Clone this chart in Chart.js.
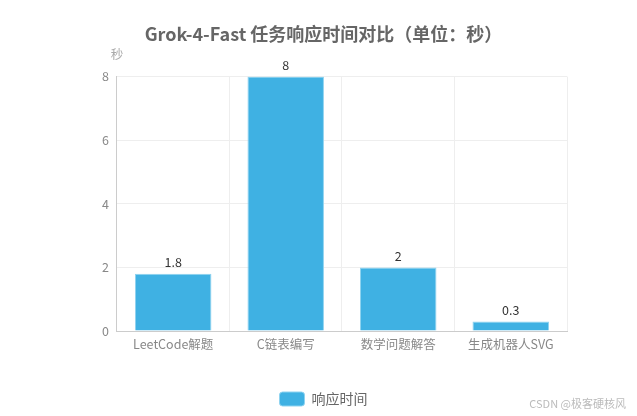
<!DOCTYPE html>
<html><head><meta charset="utf-8">
<script src="https://cdn.jsdelivr.net/npm/chart.js@4"></script>
<style>html,body{margin:0;padding:0;background:#fff;}#wrap{width:637px;height:416px;position:relative;}</style>
</head><body><div id="wrap"><canvas id="c"></canvas></div>
<script>
const categories = ['LeetCode解题', 'C链表编写', '数学问题解答', '生成机器人SVG'];
const seriesName = '响应时间';
const values = [1.8, 8, 2, 0.3];
const yTicks = [0, 2, 4, 6, 8];
const FONT = '"Noto Sans CJK SC", "Noto Sans", sans-serif';

const extras = {
  id: 'extras',
  afterDatasetsDraw(chart) {
    const ctx = chart.ctx;
    const meta = chart.getDatasetMeta(0);
    ctx.save();
    ctx.font = '12.5px ' + FONT;
    ctx.fillStyle = '#333';
    ctx.textAlign = 'center';
    ctx.textBaseline = 'bottom';
    meta.data.forEach((bar, i) => {
      ctx.fillText(String(values[i]), bar.x, bar.y - 5);
    });
    const ca = chart.chartArea;
    ctx.fillStyle = '#aaa';
    ctx.font = '12.5px ' + FONT;
    ctx.textAlign = 'center';
    ctx.textBaseline = 'middle';
    ctx.fillText('秒', ca.left, ca.top - 22);
    ctx.fillStyle = '#bbb';
    ctx.font = '11px ' + FONT;
    ctx.textAlign = 'right';
    ctx.fillText('CSDN @极客硬核风', 626, 404);
    ctx.restore();
  }
};

new Chart(document.getElementById('c'), {
  type: 'bar',
  data: {
    labels: categories,
    datasets: [{
      label: seriesName,
      data: values,
      backgroundColor: '#3fb1e3',
      borderColor: '#8fd3f0',
      borderWidth: 1,
      categoryPercentage: 0.68,
      barPercentage: 1
    }]
  },
  options: {
    responsive: true,
    maintainAspectRatio: false,
    animation: false,
    layout: { padding: { left: 80, right: 70, top: 0, bottom: 0 } },
    plugins: {
      title: {
        display: true,
        text: 'Grok-4-Fast 任务响应时间对比（单位：秒）',
        color: '#666',
        font: { family: FONT, size: 18, weight: 'bold' },
        padding: { top: 23, bottom: 32 }
      },
      legend: {
        position: 'bottom',
        labels: {
          color: '#666',
          font: { family: FONT, size: 14 },
          boxWidth: 25, boxHeight: 14,
          useBorderRadius: true, borderRadius: 3,
          padding: 10
        }
      },
      tooltip: { enabled: false }
    },
    scales: {
      x: {
        grid: { color: '#eee', drawTicks: false, offset: true },
        border: { color: '#ccc' },
        ticks: { color: '#888', font: { family: FONT, size: 12.5 }, padding: 6 },
        afterFit(s) { s.height += 24; }
      },
      y: {
        min: 0, max: 8,
        afterBuildTicks(s) { s.ticks = yTicks.map(v => ({ value: v })); },
        afterFit(s) { s.width += 14; },
        grid: { color: '#eee', drawTicks: false },
        border: { color: '#ccc' },
        ticks: { color: '#888', font: { family: FONT, size: 12.5 }, padding: 8 }
      }
    }
  },
  plugins: [extras]
});
</script></body></html>
